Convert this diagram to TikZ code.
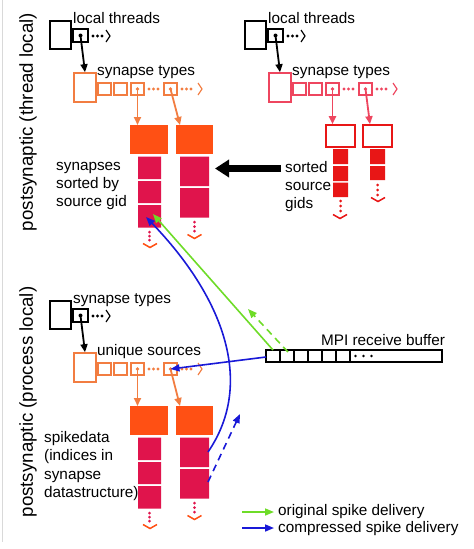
\documentclass[tikz,border=0pt]{standalone}
\usepackage{fontspec}
\setmainfont{Liberation Sans}
\usetikzlibrary{arrows.meta}
\definecolor{orgline}{RGB}{242,125,65}
\definecolor{orgfill}{RGB}{255,80,20}
\definecolor{crim}{RGB}{224,20,76}
\definecolor{pinkline}{RGB}{238,70,95}
\definecolor{redd}{RGB}{232,22,22}
\definecolor{grn}{RGB}{110,220,40}
\definecolor{blu}{RGB}{25,25,215}
\newcommand\tridots[3]{\fill[#1] (#2,#3) circle (1.6) (#2+4.5,#3) circle (1.6) (#2+9,#3) circle (1.6);}
\newcommand\rchev[3]{\draw[#1,line width=1.2pt] (#2,#3-6)--(#2+4,#3)--(#2,#3+6);}
\newcommand\dchev[3]{\draw[#1,line width=1.5pt] (#2-7,#3-2)--(#2,#3+2)--(#2+7,#3-2);}
\newcommand\vdotz[4]{\fill[#1] (#2,#3) circle (1.5) (#2,#3+#4) circle (1.5) (#2,#3+2*#4) circle (1.5);}
% header: #1 xshift, #2 yshift, #3 row colour, #4 top label, #5 row label, #6 prefix
\newcommand\header[6]{%
\begin{scope}[shift={(#1,#2)}]
  \draw[blk] (50,21) rectangle (71,49);
  \draw[blk] (73,29) rectangle (88,42);
  \fill (80.5,35.5) circle (2);
  \coordinate (#6d0) at (80.5,35.5);
  \tridots{black}{93}{36}
  \rchev{black}{106}{36}
  \node[lbl] (#6lab1) at (73,23) {#4};
  \node[draw=#3, line width=1.6pt, inner sep=0pt, minimum width=22pt, minimum height=29pt] (#6big) at (85,87.5) {};
  \draw[arr] (#6d0) -- (#6big.north);
  \draw[#3, line width=1.5pt] (98,83) rectangle (111,95) (114,83) rectangle (127,95)
     (131,83) rectangle (144,95) (164,83) rectangle (177,95);
  \fill[#3] (137.5,89) circle (1.8) (170.5,89) circle (1.8);
  \coordinate (#6d1) at (137.5,89);
  \coordinate (#6d2) at (170.5,89);
  \tridots{#3}{149}{89}
  \tridots{#3}{182}{89}
  \rchev{#3}{198}{89}
  \node[lbl] (#6lab2) at (97,75) {#5};
\end{scope}}
\newcommand\leftcols[2]{% #1 yshift, #2 prefix
\begin{scope}[shift={(0,#1)}]
  \fill[orgfill] (130,125) rectangle (168,154);
  \fill[orgfill] (176,125) rectangle (213,154);
  \coordinate (#2c1) at (137.5,125);
  \coordinate (#2c2) at (180,125);
  \fill[crim] (138,156.5) rectangle (161,179) (138,181) rectangle (161,203) (138,205) rectangle (161,227.5);
  \fill[crim] (180,156.5) rectangle (209,186) (180,188) rectangle (209,217.5);
  \vdotz{crim}{149.5}{232}{4}
  \dchev{orgfill}{150}{245.5}
  \vdotz{crim}{194.5}{222}{4.5}
  \dchev{orgfill}{194.5}{236.5}
\end{scope}}
\begin{document}
\begin{tikzpicture}[x=1pt,y=-1pt,
  lbl/.style={font=\fontsize{15.3}{18}\selectfont, anchor=base west, inner sep=0pt},
  vlbl/.style={font=\fontsize{18.7}{22}\selectfont, rotate=90, inner sep=0pt},
  blk/.style={draw=black, line width=1.8pt},
  arr/.style={-{Triangle[length=8pt,width=7pt]}, line width=1.8pt},
  carr/.style={-{Triangle[length=9pt,width=7pt]}, line width=1.6pt},
  dsh/.style={dash pattern=on 7pt off 5pt}]
\useasboundingbox (0,0) rectangle (474,549);
\draw[black!15, line width=1pt] (2,0) -- (2,542);

% side labels
\node[vlbl] (vt) at (28,122) {postsynaptic (thread local)};
\node[vlbl] (vp) at (28,402) {postsynaptic (process local)};

% ---------- top left (thread local) ----------
\header{0}{0}{orgline}{local threads}{synapse types}{A}
\leftcols{0}{A}
\draw[arr, orgline] (Ad1) -- (Ac1);
\draw[arr, orgline] (Ad2) -- (Ac2);
\node[lbl] (s1) at (56,170) {synapses};
\node[lbl] (s2) at (56,188) {sorted by};
\node[lbl] (s3) at (56,206) {source gid};

% ---------- top right ----------
\header{195}{0}{pinkline}{local threads}{synapse types}{B}
\node[draw=redd, line width=1.6pt, inner sep=0pt, minimum width=29pt, minimum height=22pt] (Bh1) at (340.5,136) {};
\node[draw=redd, line width=1.6pt, inner sep=0pt, minimum width=29pt, minimum height=22pt] (Bh2) at (377.5,136) {};
\draw[arr, pinkline] (Bd1) -- (Bd1 |- Bh1.north);
\draw[arr, pinkline] (Bd2) -- ([xshift=-7.5pt]Bh2.north);
\fill[redd] (333,149) rectangle (348,164) (333,166) rectangle (348,181) (333,182.5) rectangle (348,197);
\fill[redd] (370,149) rectangle (385,164) (370,166) rectangle (385,180);
\vdotz{redd}{340.5}{201}{5}
\dchev{redd}{340}{216.5}
\vdotz{redd}{377.5}{185}{5}
\dchev{redd}{378}{199.5}
\node[lbl] (g1) at (285,172) {sorted};
\node[lbl] (g2) at (285,190) {source};
\node[lbl] (g3) at (285,208) {gids};
\coordinate (bigS) at (281,168.5);
\coordinate (bigE) at (215,168.5);
\draw[line width=7pt, -{Triangle[length=14pt,width=17pt]}] (bigS) -- (bigE);

% ---------- bottom (process local) ----------
\header{0}{280}{orgline}{synapse types}{unique sources}{C}
\leftcols{281}{C}
\draw[arr, orgline] (Cd1) -- (Cc1);
\draw[arr, orgline] (Cd2) -- (Cc2);
\node[lbl] (p1) at (44,442) {spikedata};
\node[lbl] (p2) at (44,460.5) {(indices in};
\node[lbl] (p3) at (44,479) {synapse};
\node[lbl] (p4) at (44,497.5) {datastructure)};

% ---------- MPI buffer ----------
\node[draw=black, line width=1.5pt, inner sep=0pt, minimum width=176pt, minimum height=12pt] (mpi) at (354,356) {};
\foreach \xx in {280,294,308,322,336,350} \draw[line width=1.2pt] (\xx,350) -- (\xx,362);
\fill (355.5,356) circle (1.4) (363.5,356) circle (1.4) (371.5,356) circle (1.4);
\node[lbl] (mpil) at (321,345) {MPI receive buffer};

% ---------- delivery arrows ----------
\coordinate (gS) at (273,350);
\coordinate (gE) at (153,214);
\draw[carr, grn] (gS) -- (gE);
\coordinate (gdS) at (288,352);
\coordinate (gdE) at (248,309);
\draw[carr, grn, dsh] (gdS) -- (gdE);
\coordinate (bS) at (266,357);
\draw[carr, blu] (bS) -- (Cd2);
\coordinate (bcS) at (208,452);
\coordinate (bcE) at (146,217);
\draw[carr, blu] (bcS) .. controls (256,382) and (222,296) .. (bcE);
\coordinate (bdS) at (208,482);
\coordinate (bdE) at (240,414);
\draw[carr, blu, dsh] (bdS) -- (bdE);

% ---------- legend ----------
\coordinate (l1S) at (242,512);
\coordinate (l1E) at (274,512);
\coordinate (l2S) at (242,528);
\coordinate (l2E) at (274,528);
\draw[carr, grn] (l1S) -- (l1E);
\draw[carr, blu] (l2S) -- (l2E);
\node[lbl] (leg1) at (278,515) {original spike delivery};
\node[lbl] (leg2) at (278,532) {compressed spike delivery};
\end{tikzpicture}
\end{document}
